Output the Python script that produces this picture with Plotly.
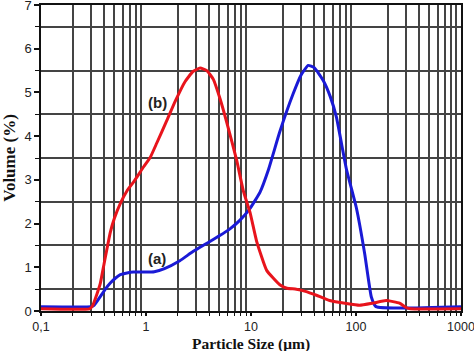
import plotly.graph_objects as go

# Curve (a) - blue
size_a = [0.1, 0.3, 0.32, 0.367, 0.41, 0.457, 0.51, 0.57, 0.66, 0.76, 1.0, 1.2, 1.5, 2.1, 2.8, 3.8, 5.0, 6.3,
          7.86, 9.8, 12.2, 14.6, 18.8, 25.2, 30, 35, 40, 48.6, 57, 65, 81, 101, 121, 140, 155, 1000]
vol_a = [0.1, 0.1, 0.13, 0.33, 0.5, 0.64, 0.75, 0.83, 0.87, 0.89, 0.89, 0.9, 0.97, 1.15, 1.36, 1.55, 1.72, 1.88,
         2.08, 2.35, 2.72, 3.22, 4.1, 4.97, 5.4, 5.62, 5.57, 5.28, 4.9, 4.44, 3.25, 2.35, 1.31, 0.32, 0.1, 0.1]

# Curve (b) - red
size_b = [0.1, 0.29, 0.31, 0.34, 0.367, 0.4, 0.457, 0.5, 0.57, 0.66, 0.76, 0.95, 1.1, 1.27, 1.58, 1.9, 2.36,
          2.8, 3.28, 3.8, 4.38, 5.08, 5.9, 7.3, 8.45, 9.8, 11.3, 14.1, 18.8, 22, 27, 33, 42, 56, 81, 108,
          145, 194, 260, 300, 330, 1000]
vol_b = [0.05, 0.05, 0.12, 0.38, 0.63, 1.1, 1.8, 2.12, 2.46, 2.75, 2.95, 3.3, 3.52, 3.85, 4.36, 4.8, 5.25,
         5.48, 5.56, 5.5, 5.3, 4.85, 4.3, 3.45, 2.75, 2.25, 1.6, 0.93, 0.6, 0.52, 0.5, 0.45, 0.36, 0.24, 0.17, 0.13,
         0.18, 0.24, 0.18, 0.08, 0.05, 0.05]

x_tickvals = [0.1, 1, 10, 100, 1000]
x_ticktext = ["0,1", "1", "10", "100", "1000"]
x_minor = [m * d for d in [0.1, 1, 10, 100] for m in range(2, 10)]
y_tickvals = [0, 1, 2, 3, 4, 5, 6, 7]
y_minor = [0.5, 1.5, 2.5, 3.5, 4.5, 5.5, 6.5]

fig = go.Figure()
fig.add_trace(go.Scatter(x=size_a, y=vol_a, mode="lines",
                         line=dict(color="#1a1ad6", width=3, shape="spline", smoothing=0.4)))
fig.add_trace(go.Scatter(x=size_b, y=vol_b, mode="lines",
                         line=dict(color="#e8141c", width=3, shape="spline", smoothing=0.4)))

fig.add_annotation(x=0.107, y=1.2, xref="x", yref="y", text="<b>(a)</b>", showarrow=False,
                   font=dict(family="Liberation Sans, Arial", size=15, color="#222"))
fig.add_annotation(x=0.107, y=4.78, xref="x", yref="y", text="<b>(b)</b>", showarrow=False,
                   font=dict(family="Liberation Sans, Arial", size=15, color="#222"))
# x-axis title, placed at the bottom edge of the figure
fig.add_annotation(x=0.5, y=-0.131, xref="paper", yref="paper", yanchor="bottom", yshift=-3,
                   borderpad=0,
                   text="<b>Particle Size (μm)</b>", showarrow=False,
                   font=dict(family="Liberation Serif, Times New Roman", size=15.5, color="#111"))

grid_col = "#444444"
fig.update_layout(
    width=474, height=351,
    margin=dict(l=41, r=13, t=5, b=40),
    paper_bgcolor="white", plot_bgcolor="white",
    showlegend=False,
    font=dict(family="Liberation Sans, Arial", size=13, color="#222"),
    xaxis=dict(
        type="log", range=[-1.0001, 3.0001], automargin=False, ticklabeloverflow="allow",
        tickvals=x_tickvals, ticktext=x_ticktext, tickfont=dict(size=12.5),
        showgrid=False, showline=True, linecolor="#111", linewidth=1.5, mirror=True,
        ticks="outside", ticklen=3, tickwidth=1.5, tickcolor="#111",
        minor=dict(tickvals=x_minor, showgrid=True, gridcolor=grid_col, gridwidth=1.5,
                   ticks="outside", ticklen=3, tickwidth=1.2, tickcolor="#111"),
        zeroline=False,
    ),
    yaxis=dict(
        range=[0, 7.002], automargin=False, ticklabeloverflow="allow", tickvals=y_tickvals,
        showgrid=False, showline=True, linecolor="#111", linewidth=1.5, mirror=True,
        ticks="outside", ticklen=5, tickwidth=1.5, tickcolor="#111",
        minor=dict(tickvals=y_minor, showgrid=True, gridcolor=grid_col, gridwidth=1.5,
                   ticks="outside", ticklen=4, tickwidth=1.2, tickcolor="#111"),
        title=dict(text="<b>Volume (%)</b>",
                   font=dict(family="Liberation Serif, Times New Roman", size=17, color="#111"),
                   standoff=6),
        zeroline=False,
    ),
)

fig.write_html("out.html")
